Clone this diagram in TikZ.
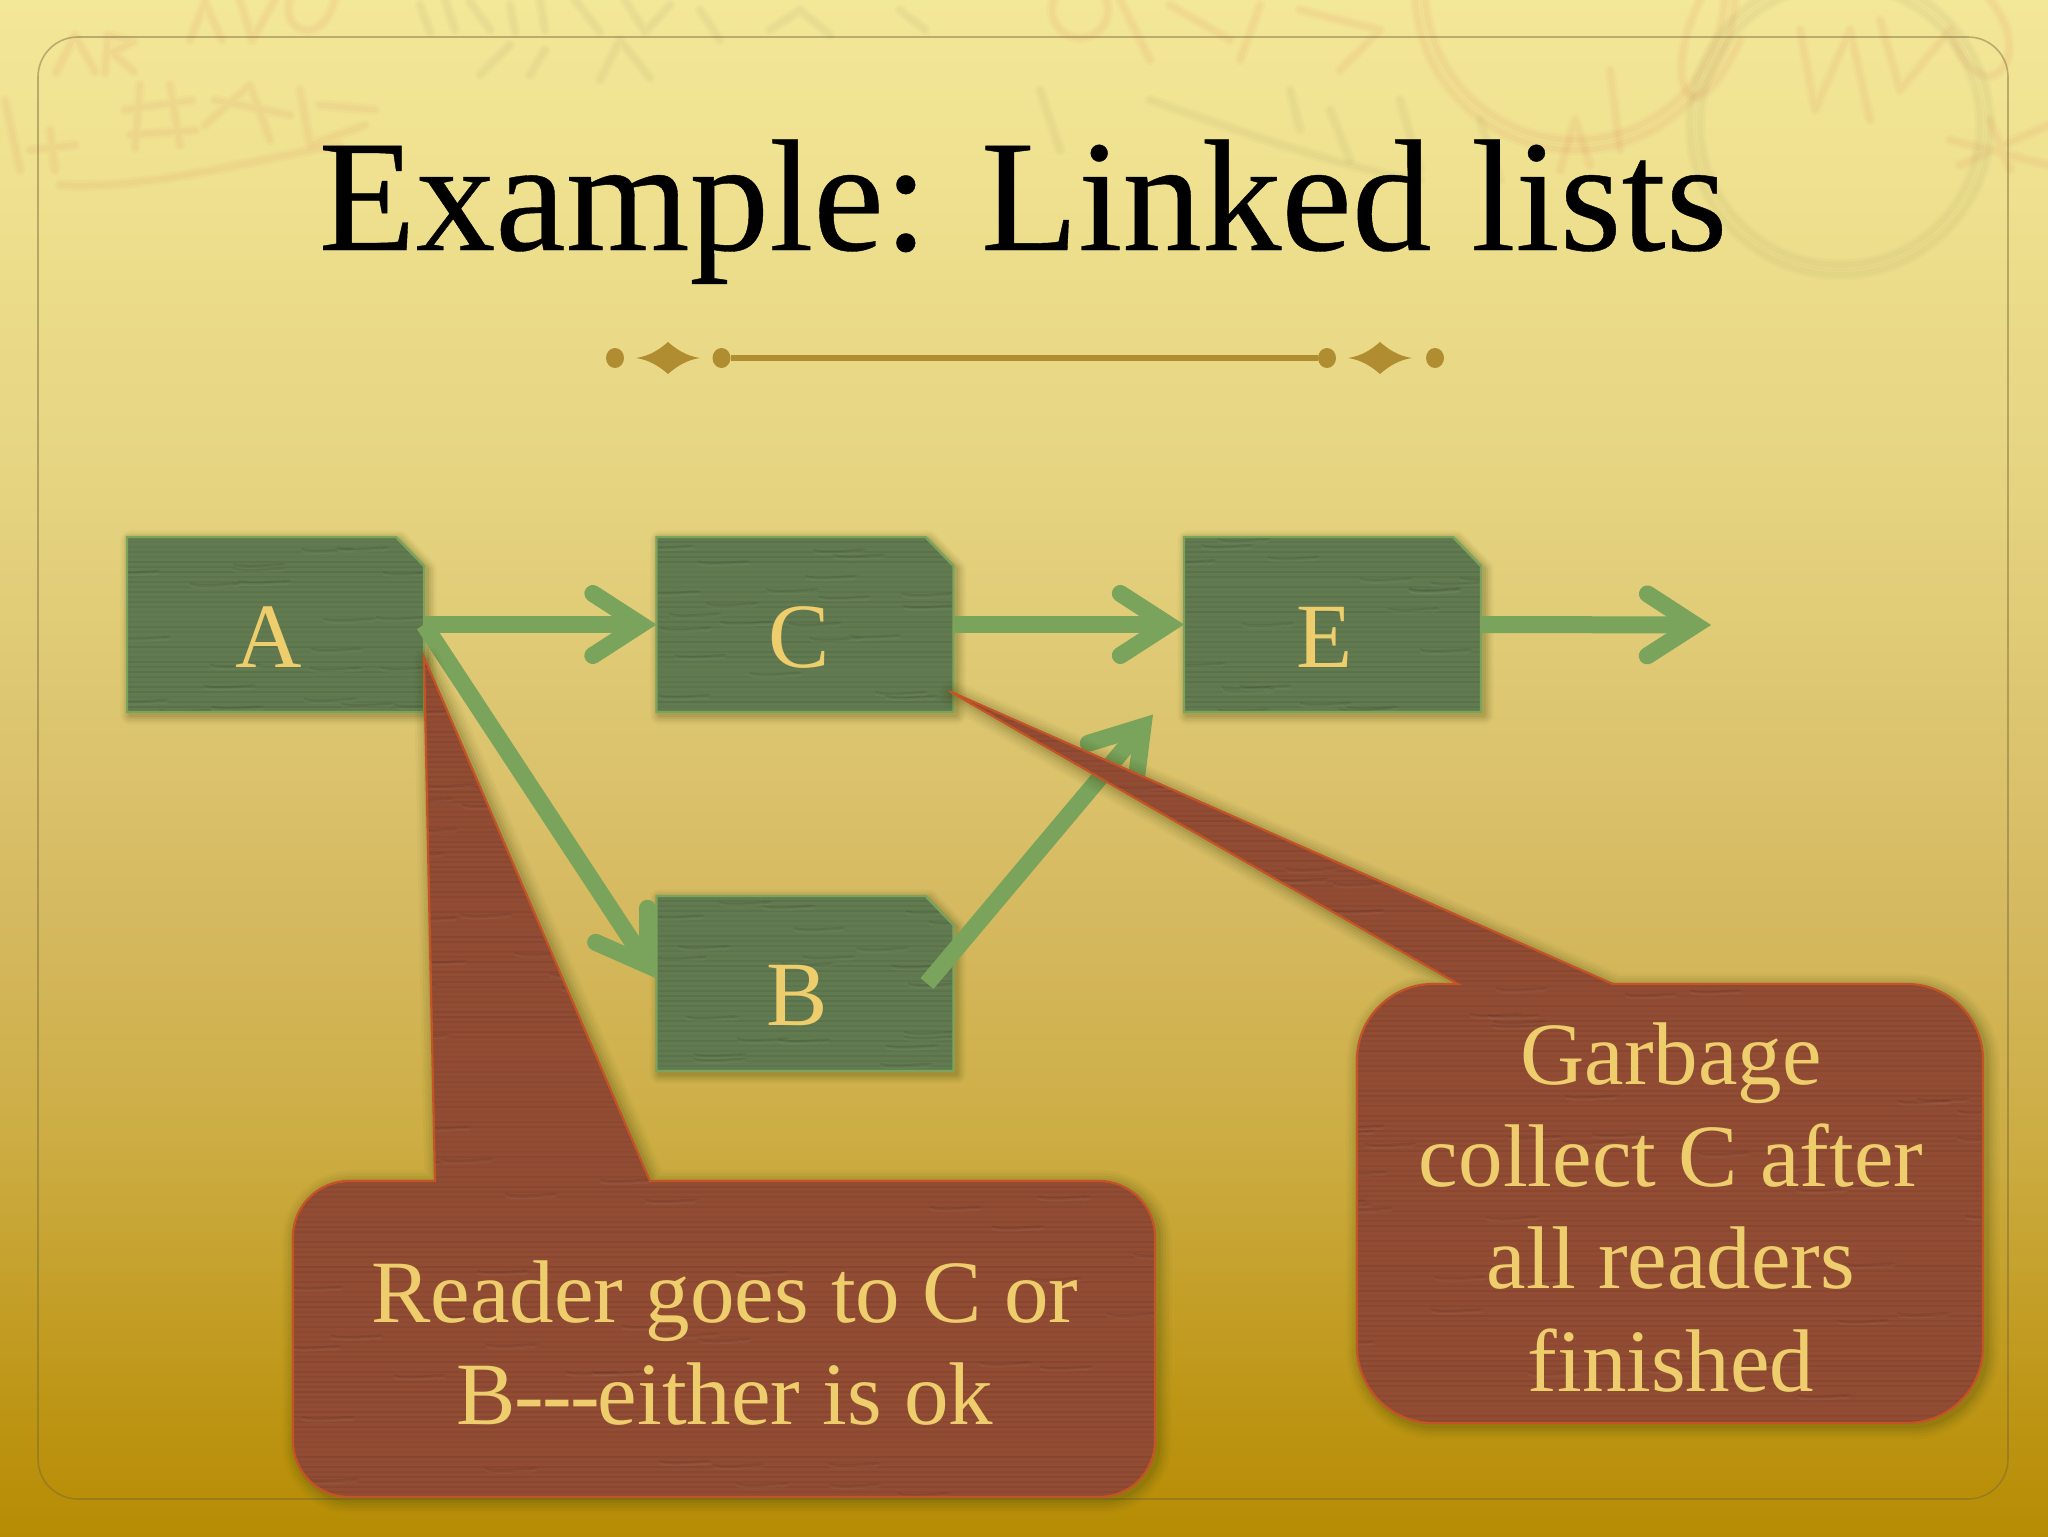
\documentclass[tikz,border=0pt]{standalone}
\usepackage{fontspec}
\setmainfont{Liberation Serif}
\newfontface\titleface[FakeBold=0.25]{Liberation Serif}
\usetikzlibrary{arrows.meta,calc,shapes.geometric}
\definecolor{bgA}{RGB}{243,231,152}
\definecolor{bgB}{RGB}{238,224,142}
\definecolor{bgC}{RGB}{229,211,128}
\definecolor{bgD}{RGB}{214,186,98}
\definecolor{bgE}{RGB}{204,172,66}
\definecolor{bgF}{RGB}{190,150,22}
\definecolor{bgG}{RGB}{183,140,4}
\definecolor{boxfill}{RGB}{97,122,80}
\definecolor{arrowgreen}{RGB}{122,163,91}
\definecolor{callfill}{RGB}{146,76,52}
\definecolor{callline}{RGB}{196,84,38}
\definecolor{txtgold}{RGB}{238,206,108}
\definecolor{ornament}{RGB}{176,141,48}
\definecolor{shadowc}{RGB}{60,70,10}
\definecolor{stamppink}{RGB}{224,130,90}
\definecolor{stampgrey}{RGB}{150,150,100}
\pgfdeclareverticalshading{slidebg}{1024pt}{
  color(0pt)=(bgG); color(68pt)=(bgF); color(193pt)=(bgE); color(318pt)=(bgD);
  color(518pt)=(bgC); color(668pt)=(bgB); color(768pt)=(bgA)}
\tikzset{
  softshadow/.style={
    preaction={draw=shadowc,draw opacity=.035,line width=#1*4pt,line join=round,transform canvas={xshift=1.5pt,yshift=-1.5pt}},
    preaction={draw=shadowc,draw opacity=.05,line width=#1*3.2pt,line join=round,transform canvas={xshift=1.5pt,yshift=-1.5pt}},
    preaction={draw=shadowc,draw opacity=.06,line width=#1*2.4pt,line join=round,transform canvas={xshift=1.5pt,yshift=-1.5pt}},
    preaction={draw=shadowc,draw opacity=.08,line width=#1*1.6pt,line join=round,transform canvas={xshift=1.5pt,yshift=-1.5pt}},
    preaction={draw=shadowc,draw opacity=.10,line width=#1*.8pt,line join=round,transform canvas={xshift=1.5pt,yshift=-1.5pt}}},
  woven/.style n args={3}{path picture={
    \begin{scope}[shift={(path picture bounding box.north west)}]
      \foreach \k in {0,5,...,#2}{
        \pgfmathsetmacro\oa{.015+rnd*.06}
        \draw[black,opacity=\oa,line width=1.1pt] (0,\k) -- (#1,\k);}
      \foreach \i in {1,...,#3}{
        \pgfmathsetmacro\xa{rnd*#1-20}\pgfmathsetmacro\ya{rnd*#2}
        \draw[black,opacity=.08,line width=.9pt] (\xa,\ya) .. controls +(14,5) and +(22,-4) .. +(44,1);
        \draw[white,opacity=.04,line width=.9pt] (\xa,\ya+3) .. controls +(14,5) and +(22,-4) .. +(44,1);}
    \end{scope}}},
  listbox/.style={rectangle,minimum width=148.5pt,minimum height=87.5pt,inner sep=0pt,outer sep=0pt},
  snipshape/.style={draw=arrowgreen,line width=1.2pt,fill=boxfill,softshadow=2.4,woven={300}{178}{22}},
  letter/.style={anchor=base,inner sep=0pt,text=txtgold,font=\fontsize{46}{46}\selectfont},
  link/.style={draw=arrowgreen,line width=8.5pt,
    -{Straight Barb[line cap=round,line join=miter,length=24pt,width=31pt,line width=8.5pt]}},
  callout/.style={draw=callline,line width=1.1pt,fill=callfill,line join=miter,softshadow=3.4},
  calltext/.style={anchor=base,inner sep=0pt,text=txtgold,font=\fontsize{44.5}{44.5}\selectfont},
  dot/.style={ellipse,fill=ornament,draw=none,minimum width=9pt,minimum height=10pt,inner sep=0pt},
  stampP/.style={draw=stamppink,draw opacity=.07,line width=2.8pt,line cap=round,line join=round,
    preaction={draw=stamppink,draw opacity=.05,line width=5.5pt,line cap=round,line join=round}},
  stampG/.style={draw=stampgrey,draw opacity=.06,line width=2.8pt,line cap=round,line join=round,
    preaction={draw=stampgrey,draw opacity=.05,line width=5.5pt,line cap=round,line join=round}},
}
\newcommand{\snipbox}[1]{\path[snipshape] (#1.north west) -- ($(#1.north east)+(-28,0)$) -- ($(#1.north east)+(0,29)$) -- (#1.south east) -- (#1.south west) -- cycle;}
\begin{document}
\begin{tikzpicture}[x=.5pt,y=-.5pt]
\useasboundingbox (0,0) rectangle (2048,1536);
\node[anchor=north west,inner sep=0pt,outer sep=0pt] (backdrop) at (0,0) {\pgfuseshading{slidebg}};
\pgfmathsetseed{7}
% faint stamps
\draw[stampP] (1575,-10) circle[radius=160];
\draw[stampP] (1575,-10) circle[radius=150];
\draw[stampG] (1840,125) circle[radius=150];
\draw[stampG] (1840,125) circle[radius=140];
\draw[stampP] (1700,0) .. controls (1660,80) and (1690,150) .. (1740,40);
\draw[stampP] (1990,0) .. controls (2040,60) and (1980,120) .. (1950,30) -- (1900,90) -- (1880,20);
\draw[stampP] (1800,30) -- (1815,110) -- (1850,30) -- (1870,120);
\draw[stampP] (1950,140) -- (2048,165) (1960,165) -- (2048,125) (1990,120) -- (2010,170);
\draw[stampP] (5,100) -- (20,170) (56,73) -- (75,35) -- (95,72) (105,73) -- (108,35) -- (134,42) -- (112,52) -- (134,72);
\draw[stampP] (190,40) -- (205,2) -- (222,40) (240,0) -- (252,40) -- (275,0) (290,0) .. controls (280,30) and (320,50) .. (335,0);
\draw[stampP] (125,110) -- (192,100) (140,85) -- (135,148) (170,85) -- (180,145) (130,135) -- (195,130);
\draw[stampP] (205,125) -- (250,85) -- (270,140) (215,100) -- (290,115) (300,90) -- (310,145) -- (365,125) (320,105) -- (375,110);
\draw[stampP] (30,150) -- (75,145) (50,130) -- (55,170) (60,185) .. controls (150,190) and (250,160) .. (340,145);
\draw[stampG] (420,5) -- (430,32) (445,0) -- (455,30) (470,2) -- (490,30) (510,5) -- (515,32) (540,0) -- (545,30) (575,0) -- (600,32) (625,0) -- (645,32) -- (670,5);
\draw[stampG] (480,75) -- (510,45) (530,75) -- (545,50) (600,80) -- (620,40) -- (650,78);
\draw[stampG] (1150,100) .. controls (1250,135) and (1350,170) .. (1420,180);
\draw[stampP] (1080,10) circle[radius=28] (1120,0) -- (1150,60) (1170,5) -- (1230,40) (1240,60) -- (1260,5) (1300,10) -- (1380,30) -- (1340,70);
\draw[stampG] (1290,90) -- (1300,130) (1330,110) -- (1350,160) (1400,100) -- (1420,170) (1480,120) -- (1500,180);
\draw[stampP] (1560,170) -- (1575,120) -- (1590,165) (1610,70) -- (1620,150);
\draw[stampG] (900,10) -- (925,30) (770,30) -- (800,10) -- (830,35) (700,10) -- (720,40) (1040,90) -- (1060,150);
% frame
\draw[black!45!bgD,draw opacity=.45,line width=.8pt,rounded corners=20pt] (38,37) rectangle (2008,1499);
% title and ornament
\node[anchor=base,inner sep=0pt,text=black,font=\titleface\fontsize{79.5}{79.5}\selectfont] (title) at (1023,250) {Example: Linked lists};
\node[dot] (d1) at (615,358) {};
\node[dot] (d2) at (721.5,358) {};
\node[dot] (d3) at (1327,358) {};
\node[dot] (d4) at (1435,358) {};
\fill[ornament] (636,358) .. controls (650,356) and (660,349) .. (668,342) .. controls (676,349) and (686,356) .. (700,358) .. controls (686,360) and (676,367) .. (668,374) .. controls (660,367) and (650,360) .. (636,358) -- cycle;
\fill[ornament] (1348,358) .. controls (1362,356) and (1372,349) .. (1380,342) .. controls (1388,349) and (1398,356) .. (1412,358) .. controls (1398,360) and (1388,367) .. (1380,374) .. controls (1372,367) and (1362,360) .. (1348,358) -- cycle;
\draw[ornament,line width=2.6pt] (d2) -- (d3);
% list boxes
\node[listbox] (A) at (275.5,624.5) {};
\node[listbox] (C) at (805,624.5) {};
\node[listbox] (E) at (1332.5,624.5) {};
\node[listbox] (B) at (805,983.5) {};
\snipbox{A}\snipbox{C}\snipbox{E}\snipbox{B}
\node[letter] (lA) at (269,667) {A};
\node[letter] (lC) at (799,667) {C};
\node[letter] (lE) at (1325,667) {E};
\node[letter] (lB) at (797,1025) {B};
% links
\coordinate (nil) at (1711,625);
\draw[link] (A.east) -- (C.west);
\draw[link] (C.east) -- (E.west);
\draw[link] (E.east) -- (nil);
\draw[link] (A.east) -- ($(B.west)+(0,-5)$);
\draw[link] ($(B.center)+(122,0)$) -- ($(E.west)+(-31,90)$);
% callouts
\path[callout,woven={870}{860}{100}] (435,1181) -- (424,657) -- (650,1181) [rounded corners=28pt] -- (1155,1181) -- (1155,1497) -- (293,1497) -- (293,1181) [sharp corners] -- cycle;
\path[callout,woven={1040}{740}{100}] (1458,984) -- (949,691) -- (1613,984) [rounded corners=38pt] -- (1983,984) -- (1983,1423) -- (1357,1423) -- (1357,984) [sharp corners] -- cycle;
\node[calltext] (r1) at (725,1322) {Reader goes to C or};
\node[calltext] (r2) at (725,1424) {B\kern-1pt{-}\kern-.8pt{-}\kern-.8pt{-}\kern-1pt either is ok};
\node[calltext] (g1) at (1671,1084.5) {Garbage};
\node[calltext] (g2) at (1671,1186) {collect C after};
\node[calltext] (g3) at (1671,1288) {all readers};
\node[calltext] (g4) at (1671,1391) {finished};
\end{tikzpicture}
\end{document}
